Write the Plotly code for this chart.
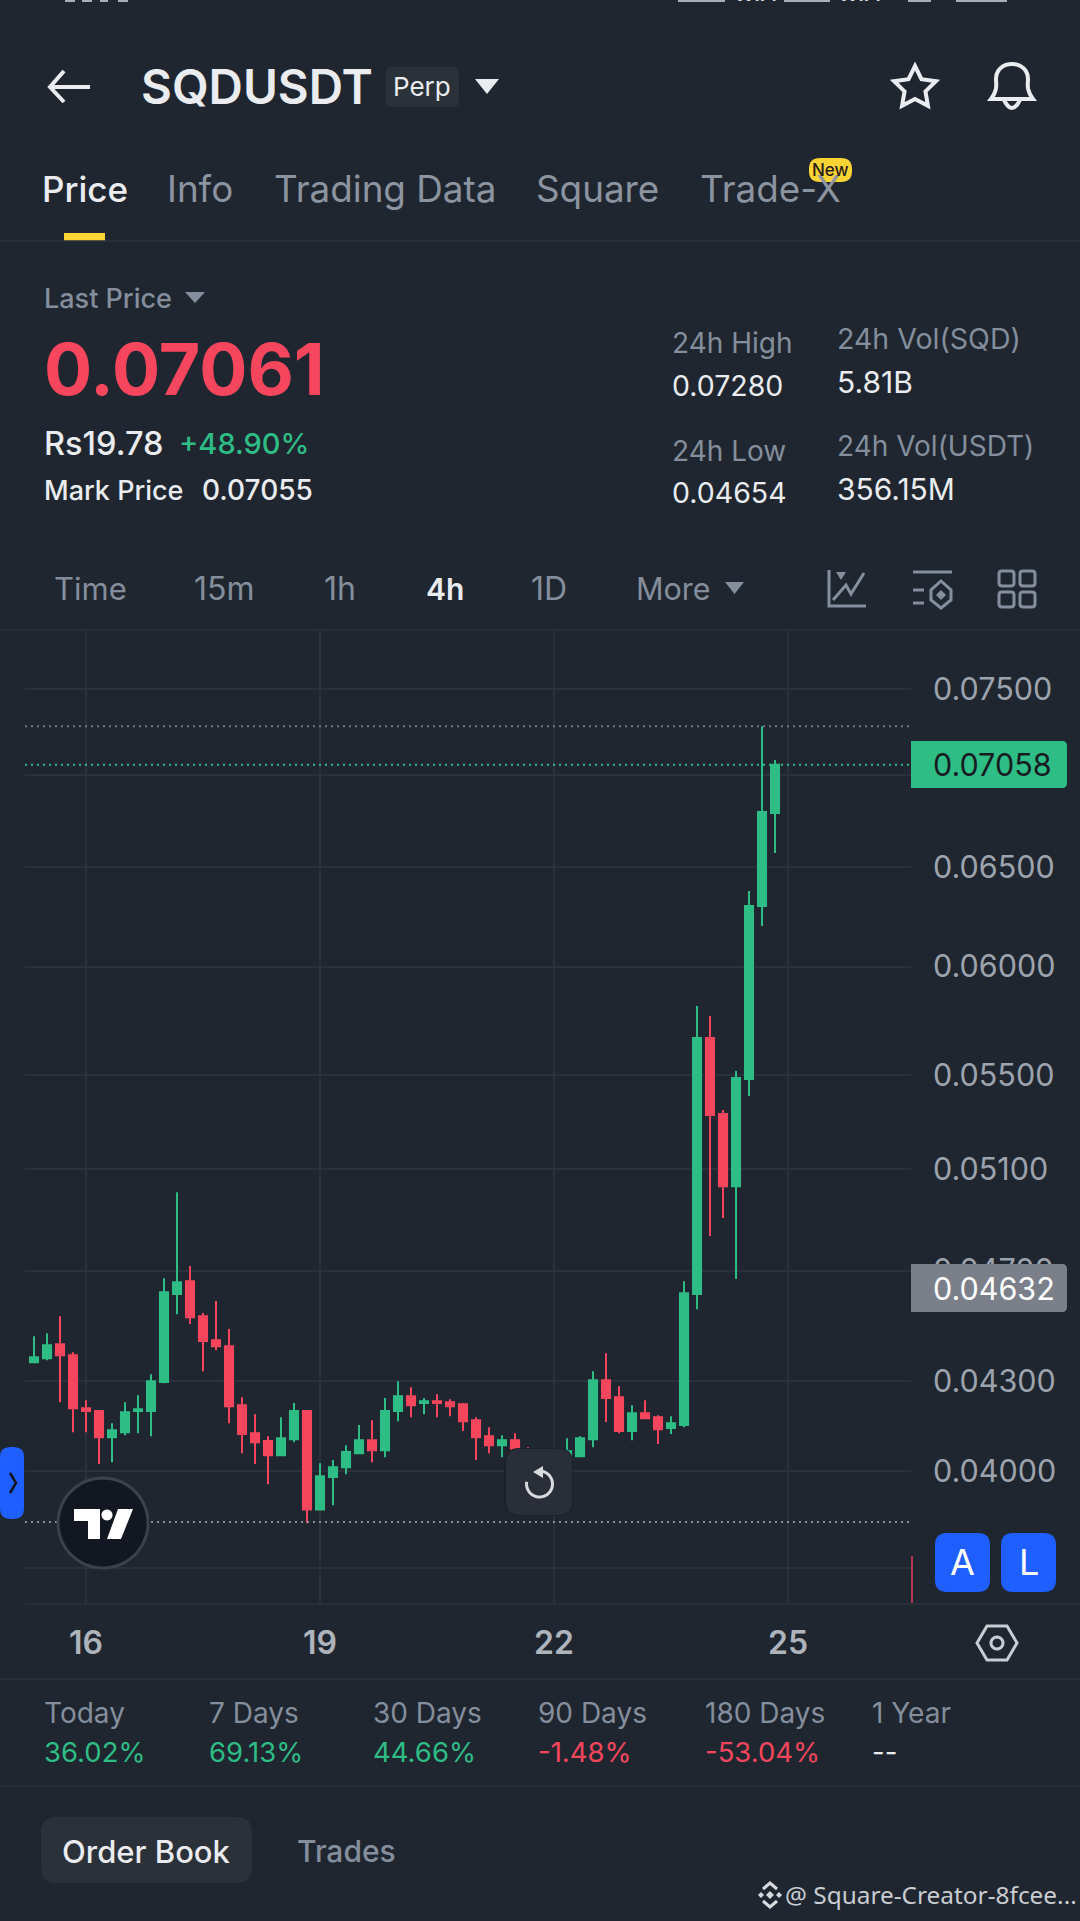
import math
import pandas as pd
import plotly.graph_objects as go

# 4h candles
opens = [0.04366, 0.04380, 0.04430, 0.04391, 0.04208, 0.04198, 0.04111, 0.04127, 0.04198, 0.04198,
         0.04297, 0.04612, 0.04660, 0.04531, 0.04444, 0.04423, 0.04218, 0.04124, 0.04098, 0.04052,
         0.04104, 0.04198, 0.03879, 0.03981, 0.04013, 0.04058, 0.04101, 0.04068, 0.04198, 0.04248,
         0.04225, 0.04231, 0.04228, 0.04221, 0.04167, 0.04114, 0.04084, 0.04101, 0.04055, 0.04038,
         0.04026, 0.04041, 0.04048, 0.04104, 0.04303, 0.04245, 0.04131, 0.04191, 0.04177, 0.04141,
         0.04151, 0.04612, 0.05666, 0.05330, 0.05030, 0.05482, 0.06300, 0.06789]
highs = [0.04458, 0.04469, 0.04531, 0.04401, 0.04235, 0.04201, 0.04157, 0.04228, 0.04252, 0.04324,
         0.04671, 0.05005, 0.04717, 0.04542, 0.04586, 0.04484, 0.04245, 0.04187, 0.04114, 0.04177,
         0.04225, 0.04198, 0.04026, 0.04036, 0.04084, 0.04151, 0.04167, 0.04242, 0.04300, 0.04279,
         0.04242, 0.04255, 0.04238, 0.04225, 0.04177, 0.04144, 0.04117, 0.04124, 0.04078, 0.04048,
         0.04075, 0.04107, 0.04114, 0.04335, 0.04398, 0.04283, 0.04218, 0.04235, 0.04184, 0.04181,
         0.04660, 0.05814, 0.05767, 0.05347, 0.05518, 0.06377, 0.07280, 0.07085]
lows = [0.04366, 0.04373, 0.04228, 0.04127, 0.04127, 0.04023, 0.04029, 0.04117, 0.04124, 0.04114,
        0.04293, 0.04538, 0.04502, 0.04335, 0.04408, 0.04157, 0.04058, 0.04023, 0.03958, 0.04048,
        0.04094, 0.03836, 0.03879, 0.03892, 0.03990, 0.04055, 0.04029, 0.04045, 0.04164, 0.04177,
        0.04187, 0.04177, 0.04181, 0.04131, 0.04036, 0.04058, 0.04045, 0.04022, 0.04016, 0.04011,
        0.04011, 0.04022, 0.04048, 0.04078, 0.04161, 0.04124, 0.04101, 0.04171, 0.04088, 0.04121,
        0.04144, 0.04556, 0.04832, 0.04903, 0.04668, 0.05408, 0.06200, 0.06575]
closes = [0.04384, 0.04426, 0.04391, 0.04208, 0.04198, 0.04111, 0.04134, 0.04194, 0.04204, 0.04300,
          0.04619, 0.04656, 0.04527, 0.04441, 0.04423, 0.04214, 0.04121, 0.04094, 0.04052, 0.04107,
          0.04198, 0.03879, 0.03984, 0.04013, 0.04062, 0.04101, 0.04068, 0.04198, 0.04248, 0.04218,
          0.04231, 0.04225, 0.04214, 0.04164, 0.04111, 0.04084, 0.04101, 0.04055, 0.04038, 0.04026,
          0.04048, 0.04065, 0.04107, 0.04303, 0.04242, 0.04131, 0.04191, 0.04174, 0.04137, 0.04157,
          0.04615, 0.05666, 0.05326, 0.05030, 0.05487, 0.06300, 0.06795, 0.07058]

price_ticks = [0.075, 0.07, 0.065, 0.06, 0.055, 0.051, 0.047, 0.043, 0.04, 0.037]
price_labels = ["0.07500", "0.07000", "0.06500", "0.06000", "0.05500", "0.05100", "0.04700", "0.04300", "0.04000", ""]
day_ticks = ["2025-10-16", "2025-10-19", "2025-10-22", "2025-10-25"]
day_labels = ["16", "19", "22", "25"]

high_line = 0.07280
last_line = 0.07058
low_line = 0.03840

periods = ["Today", "7 Days", "30 Days", "90 Days", "180 Days", "1 Year"]
period_changes = ["36.02%", "69.13%", "44.66%", "-1.48%", "-53.04%", "--"]

W, H = 1080, 1921
BG = "#1F2630"
GRID = "#2B313C"
GREEN = "#2EBD85"
RED = "#F6465D"
GREY = "#848E9C"
WHITE = "#EAECEF"
PANEL = "#2B3139"
BLUE = "#1F5EFF"
YELLOW = "#FCD535"
FONT = "Inter"

times = pd.date_range("2025-10-15 08:00", periods=len(opens), freq="4h")
x_range = [times[0] - pd.Timedelta(hours=2.77), times[0] + pd.Timedelta(hours=269.84)]


def px(x):
    return x / W


def py(y):
    return 1 - y / H


def path(*cmds):
    """Build an SVG path in screen pixels, converted to paper coordinates."""
    parts = []
    for cmd in cmds:
        nums = cmd[1:]
        pts = [f"{px(nums[i]):.5f},{py(nums[i + 1]):.5f}" for i in range(0, len(nums), 2)]
        parts.append(cmd[0] + " ".join(pts))
    return " ".join(parts)


def poly(points, close=True):
    cmds = [("M",) + points[0]] + [("L",) + p for p in points[1:]]
    if close:
        cmds.append(("Z",))
    return path(*cmds)


def rounded(x0, y0, x1, y1, r):
    return path(("M", x0 + r, y0), ("L", x1 - r, y0), ("Q", x1, y0, x1, y0 + r),
                ("L", x1, y1 - r), ("Q", x1, y1, x1 - r, y1), ("L", x0 + r, y1),
                ("Q", x0, y1, x0, y1 - r), ("L", x0, y0 + r), ("Q", x0, y0, x0 + r, y0), ("Z",))


def arc(cx, cy, r, start, end, steps=40):
    return [(cx + r * math.cos(math.radians(start + (end - start) * k / steps)),
             cy + r * math.sin(math.radians(start + (end - start) * k / steps))) for k in range(steps + 1)]


fig = go.Figure()

fig.add_trace(go.Candlestick(
    x=times, open=opens, high=highs, low=lows, close=closes,
    increasing=dict(line=dict(color=GREEN, width=2), fillcolor=GREEN),
    decreasing=dict(line=dict(color=RED, width=2), fillcolor=RED),
    whiskerwidth=0,
    hoverinfo="skip"
))

# Dotted 24h high, last price and low lines
for level, color in [(high_line, "#737985"), (last_line, GREEN), (low_line, "#8A8F99")]:
    fig.add_trace(go.Scatter(
        x=x_range, y=[level, level], mode="lines",
        line=dict(color=color, width=2, dash="2px,4px"), hoverinfo="skip"
    ))


def shape(d, fill=None, line=None, width=0):
    fig.add_shape(type="path", path=d, xref="paper", yref="paper", layer="above",
                  fillcolor=fill if fill else "rgba(0,0,0,0)",
                  line=dict(color=line if line else "rgba(0,0,0,0)", width=width))


def label(x, y, text, size, color, anchor="left", weight=400, family=FONT):
    if anchor == "left":
        x -= 1.5
    fig.add_annotation(x=px(x), y=py(y), xref="paper", yref="paper", text=text, showarrow=False,
                       xanchor=anchor, yanchor="middle", borderpad=0, borderwidth=0,
                       font=dict(family=family, size=size, color=color, weight=weight))


# Status bar, cut off at the top of the screenshot
for x0, x1 in [(65, 75), (82, 92), (100, 108), (118, 128), (678, 725), (784, 830), (908, 931), (956, 1007)]:
    shape(poly([(x0, 0), (x1, 0), (x1, 2), (x0, 2)]), fill="#A9ADB4")
label(755, -6, "WiFi", 20, "#D8DADE", "center", 600)
label(859, -6, "WiFi", 20, "#D8DADE", "center", 600)

# Header
shape(path(("M", 90, 87), ("L", 51, 87), ("M", 64, 71), ("L", 50, 87), ("L", 64, 102)), line=WHITE, width=4)
label(142, 87, "SQDUSDT", 47.5, WHITE, weight=600)
shape(rounded(386, 67, 459, 107, 6), fill=PANEL)
label(422, 87, "Perp", 26, WHITE, "center")
shape(poly([(475, 79), (499, 79), (487, 94)]), fill=WHITE)
star = [(915 + (22 if k % 2 == 0 else 11) * math.cos(math.radians(-90 + 36 * k)),
         88 + (22 if k % 2 == 0 else 11) * math.sin(math.radians(-90 + 36 * k))) for k in range(10)]
shape(poly(star), line=WHITE, width=4)
shape(path(("M", 991, 99), ("C", 998, 90, 996, 84, 996, 79), ("C", 996, 59, 1028, 59, 1028, 79),
           ("C", 1028, 84, 1026, 90, 1033, 99), ("Z",), ("M", 1004, 100), ("Q", 1012, 116, 1020, 100)),
      line=WHITE, width=4)

# Tabs
label(43, 189, "Price", 35, WHITE, weight=500)
label(168, 189, "Info", 36.8, "#8C94A0")
label(275, 189, "Trading Data", 36.8, "#8C94A0")
label(537, 189, "Square", 36.8, "#8C94A0")
label(701, 189, "Trade-X", 36.8, "#8C94A0")
shape(rounded(809, 158, 852, 182, 11), fill=YELLOW)
label(830.5, 170, "New", 17, "#2B1B10", "center", 500)
shape(poly([(64, 233), (105, 233), (105, 241), (64, 241)]), fill=YELLOW)
shape(poly([(0, 241), (W, 241)], close=False), line=GRID, width=1.5)

# Price block
label(45, 298, "Last Price", 27, GREY, weight=500)
shape(poly([(185, 292), (205, 292), (195, 303)]), fill=GREY)
label(45, 369, "0.07061", 71.5, RED, weight=700)
label(45, 444, "Rs19.78", 32.5, WHITE, weight=500)
label(180, 444, "+48.90%", 29, GREEN, weight=500)
label(45, 490, "Mark Price", 27, WHITE, weight=500)
label(203, 490, "0.07055", 28, WHITE, weight=500)
label(673, 343, "24h High", 28, GREY)
label(673, 385, "0.07280", 28.5, WHITE)
label(673, 451, "24h Low", 28, GREY)
label(673, 493, "0.04654", 28.5, WHITE)
label(839, 338, "24h Vol(SQD)", 28.5, GREY)
label(839, 382, "5.81B", 30, WHITE)
label(839, 446, "24h Vol(USDT)", 28, GREY)
label(839, 489, "356.15M", 30, WHITE)

# Interval row
label(55, 589, "Time", 31, GREY)
label(195, 589, "15m", 32, GREY)
label(325, 589, "1h", 32, GREY)
label(427, 589, "4h", 30, WHITE, weight=600)
label(532, 589, "1D", 32, GREY)
label(637, 589, "More", 30.5, GREY)
shape(poly([(725, 582), (744, 582), (734.5, 594)]), fill=GREY)
shape(path(("M", 829, 570), ("L", 829, 606), ("L", 866, 606), ("M", 833, 600), ("L", 846, 585),
           ("L", 851, 594), ("L", 864, 573)), line=GREY, width=3)
shape(poly([(836, 572), (846, 572), (841, 580)]), fill=GREY)
shape(path(("M", 913, 572), ("L", 952, 572), ("M", 913, 590), ("L", 924, 590), ("M", 913, 603), ("L", 924, 603)),
      line=GREY, width=3)
shape(poly([(941, 581), (951, 590), (951, 600), (941, 608), (931, 600), (931, 590)]), line=GREY, width=3)
shape(poly([(941, 590), (946, 595), (941, 600), (936, 595)]), fill=GREY)
for x0, y0 in [(999, 571), (1020, 571), (999, 592), (1020, 592)]:
    shape(rounded(x0, y0, x0 + 15, y0 + 15, 3), line=GREY, width=3)

# Chart frame
shape(poly([(0, 630), (W, 630)], close=False), line=GRID, width=1.5)
shape(poly([(25, 1604), (W, 1604)], close=False), line=GRID, width=1.5)
shape(poly([(912, 1556), (912, 1603)], close=False), line="#B23A4F", width=2)

# Price tags
tag_right = 1067
for y0, y1, color in [(741, 788, GREEN), (1264, 1312, "#7A7F8A")]:
    shape(path(("M", 911, y0), ("L", tag_right - 5, y0), ("Q", tag_right, y0, tag_right, y0 + 5),
               ("L", tag_right, y1 - 5), ("Q", tag_right, y1, tag_right - 5, y1), ("L", 911, y1), ("Z",)), fill=color)
label(934, 765, f"{last_line:.5f}", 30.5, "#181C22")
label(934, 1288, "0.04632", 30.5, "#FFFFFF")

# Side handle
shape(rounded(0, 1447, 24, 1519, 10), fill=BLUE)
shape(path(("M", 10, 1473), ("L", 16, 1483), ("L", 10, 1493)), line="#10131A", width=2.5)

# TradingView badge
shape(poly(arc(103, 1523, 45, 0, 360, 72)), fill="#131722", line="#3C414C", width=3)
shape(poly([(74, 1509), (100, 1509), (100, 1539), (88, 1539), (88, 1521), (74, 1521)]), fill="#FFFFFF")
shape(poly(arc(107, 1515, 5.5, 0, 360, 24)), fill="#FFFFFF")
shape(poly([(118, 1509), (133, 1509), (121, 1539), (107, 1539)]), fill="#FFFFFF")

# Reset button
shape(rounded(504, 1448, 573, 1516, 15), fill="#1C2028")
shape(rounded(506, 1449, 572, 1515, 14), fill="#2A2E39")
shape(poly(arc(539.5, 1484, 13, -80, 190), close=False), line="#D8DADE", width=3)
shape(poly([(533, 1472), (543, 1466), (543, 1478)]), fill="#D8DADE")

# A / L buttons
shape(rounded(935, 1533, 990, 1592, 12), fill=BLUE)
shape(rounded(1001, 1533, 1056, 1592, 12), fill=BLUE)
label(962.5, 1562, "A", 36, "#FFFFFF", "center")
label(1028.5, 1562, "L", 36, "#FFFFFF", "center")

# Axis settings icon
shape(poly([(987, 1626), (1007, 1626), (1017, 1643), (1007, 1660), (987, 1660), (977, 1643)]), line="#C9CCD1", width=3)
shape(poly(arc(997, 1643, 6, 0, 360, 24)), line="#C9CCD1", width=3)
shape(poly([(0, 1679), (W, 1679)], close=False), line=GRID, width=1.5)

# Period changes
period_x = [45, 210, 374, 539, 706, 873]
for x, name, change in zip(period_x, periods, period_changes):
    label(x, 1713, name, 28, GREY)
    color = WHITE if change == "--" else (RED if change.startswith("-") else GREEN)
    label(x, 1752, change, 27.5, color)
shape(poly([(0, 1786), (W, 1786)], close=False), line=GRID, width=1.5)

# Bottom tabs and watermark
shape(rounded(41, 1817, 252, 1883, 16), fill=PANEL)
label(63, 1851, "Order Book", 31, WHITE, weight=500)
label(298, 1851, "Trades", 30, GREY, weight=500)
for cx, cy, r in [(770, 1895, 4), (761, 1895, 3), (779, 1895, 3)]:
    shape(poly([(cx, cy - r), (cx + r, cy), (cx, cy + r), (cx - r, cy)]), fill="#D8DADE")
shape(path(("M", 763, 1889), ("L", 770, 1883), ("L", 777, 1889), ("M", 763, 1901), ("L", 770, 1907), ("L", 777, 1901)),
      line="#D8DADE", width=3)
label(786, 1894, "@ Square-Creator-8fcee...", 24.4, "#C9CCD1", family="Noto Sans")

fig.update_layout(
    width=W,
    height=H,
    margin=dict(l=0, r=0, t=0, b=0),
    paper_bgcolor=BG,
    plot_bgcolor=BG,
    showlegend=False,
    boxgap=0.25,
    boxgroupgap=0.17,
    font=dict(family=FONT),
    xaxis=dict(
        domain=[px(25), px(911)],
        range=x_range,
        type="date",
        rangeslider=dict(visible=False),
        tickvals=day_ticks,
        ticktext=day_labels,
        ticks="outside",
        ticklen=11,
        tickcolor=BG,
        tickfont=dict(family=FONT, size=32, color="#AEB4BC", weight=600),
        showgrid=True,
        gridcolor=GRID,
        gridwidth=1.5,
        zeroline=False,
        showline=False
    ),
    yaxis=dict(
        domain=[py(1604), py(631)],
        type="log",
        range=[math.log10(0.03595), math.log10(0.07859)],
        side="right",
        tickvals=price_ticks,
        ticktext=price_labels,
        ticks="outside",
        ticklen=15,
        tickcolor=BG,
        tickfont=dict(family=FONT, size=30.5, color="#9DA3AD"),
        showgrid=True,
        gridcolor=GRID,
        gridwidth=1.5,
        zeroline=False,
        showline=False
    )
)

fig.write_html("out.html", config={"displayModeBar": False},
               post_script="document.body.style.margin='0';document.body.style.overflow='hidden';")
